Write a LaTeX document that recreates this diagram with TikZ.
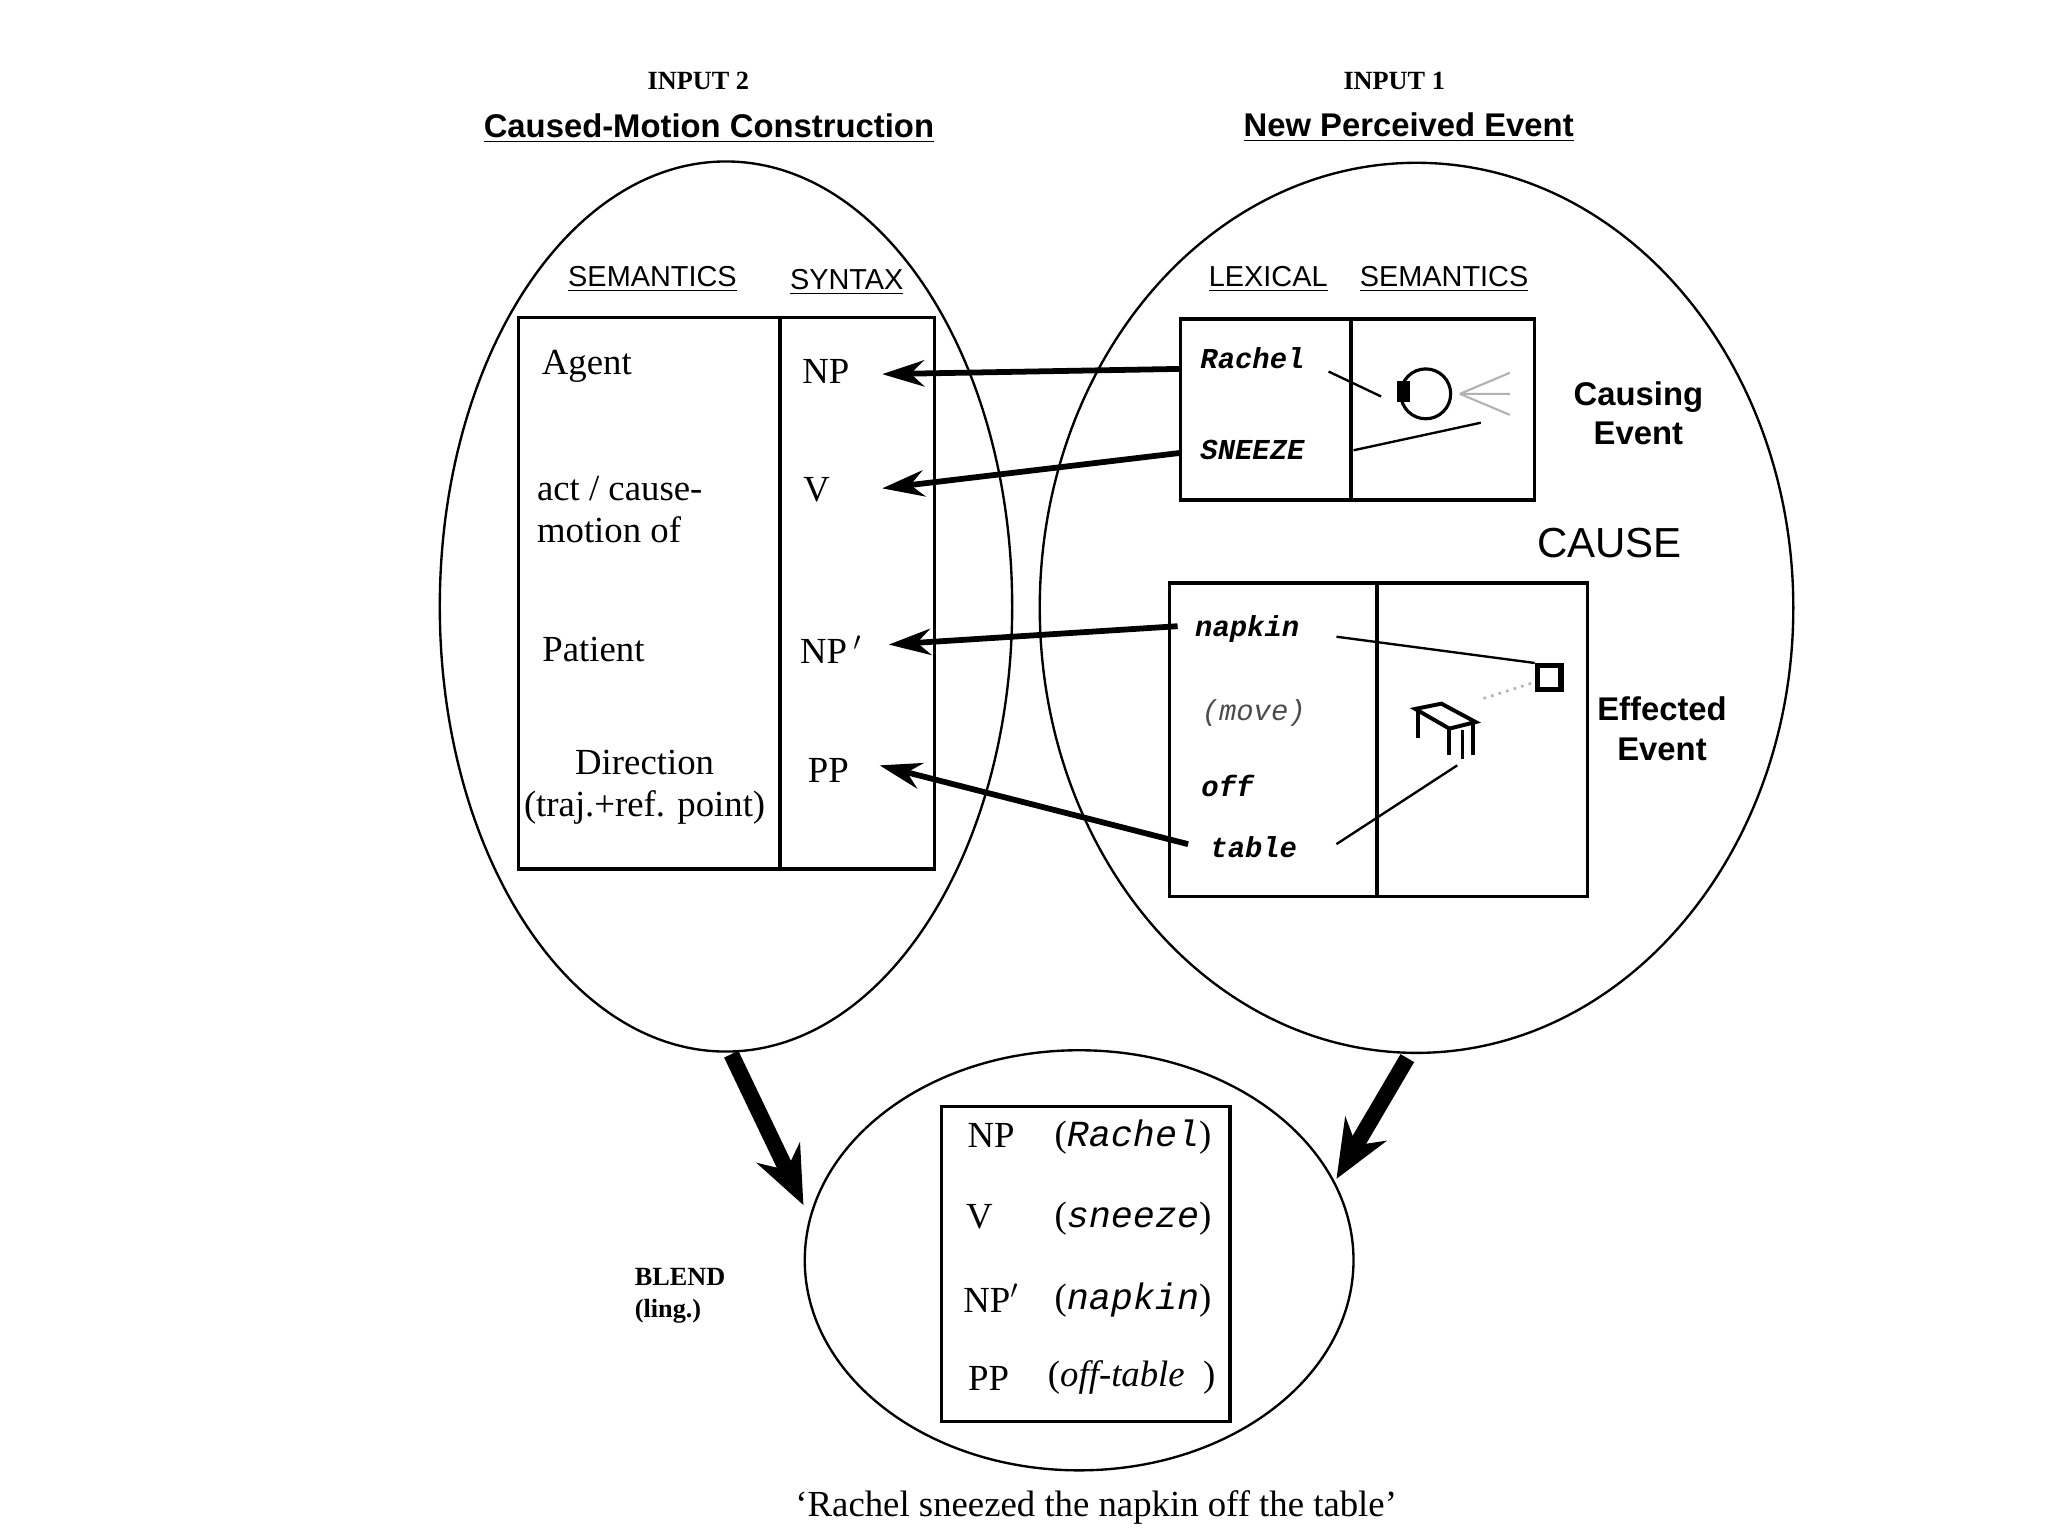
\documentclass[tikz,border=0pt]{standalone}
\usepackage{fontspec}
\setmainfont{Liberation Serif}
\newfontfamily\sansf{Liberation Sans}
\newfontfamily\monof{Liberation Mono}
\usetikzlibrary{arrows.meta}
\begin{document}
\begin{tikzpicture}[x=0.5pt,y=-0.5pt,
  ser/.style={font=\fontsize{14}{16}\selectfont},
  hdr/.style={font=\sansf\fontsize{11}{13}\selectfont},
  lab/.style={font=\sansf\bfseries\fontsize{12.5}{15}\selectfont,align=center},
  mono/.style={font=\monof\bfseries\itshape\fontsize{11}{13}\selectfont},
  arr/.style={-{Stealth[length=16pt,width=10pt]},line width=2.2pt},
  big/.style={-{Stealth[length=22pt,width=18pt]},line width=6pt},
  thin/.style={line width=0.9pt}]
\useasboundingbox (0,0) rectangle (1560,1170);
% titles
\node[font=\bfseries\fontsize{10}{12}\selectfont] (i2) at (532,62) {INPUT 2};
\node[font=\sansf\bfseries\fontsize{12.5}{14}\selectfont] (t2) at (540,98) {\underline{Caused-Motion Construction}};
\node[font=\bfseries\fontsize{10}{12}\selectfont] (i1) at (1062,62) {INPUT 1};
\node[font=\sansf\bfseries\fontsize{12.5}{14}\selectfont] (t1) at (1073,97) {\underline{New Perceived Event}};
% ellipses
\draw[thin] (553,462) ellipse [x radius=218, y radius=339];
\draw[thin] (1079,463) ellipse [x radius=287, y radius=339];
\draw[thin] (822,960) ellipse [x radius=209, y radius=160];
% left table
\draw[line width=1.3pt] (395,242) rectangle (712,662);
\draw[line width=1.3pt] (594,242) -- (594,662);
\node[hdr] (hs) at (497,213) {\underline{SEMANTICS}};
\node[hdr] (hy) at (645,215) {\underline{SYNTAX}};
\node[ser] (ag) at (447,279) {Agent};
\node[ser,align=left,anchor=west] (act) at (402,388) {act / cause-\\motion of};
\node[ser] (pa) at (452,495) {Patient};
\node[ser,align=center] (di) at (491,600) {Direction\\(traj.+ref. point)};
\node[ser] (np) at (629,283) {NP};
\node[ser] (v) at (622,373) {V};
\node[ser] (np2) at (633,495) {NP\,$'$};
\node[ser] (pp) at (631,587) {PP};
% right top box
\draw[line width=1.3pt] (899,243) rectangle (1169,381);
\draw[line width=1.3pt] (1029,243) -- (1029,381);
\node[hdr] (hl) at (966,213) {\underline{LEXICAL}};
\node[hdr] (hs2) at (1100,213) {\underline{SEMANTICS}};
\node[mono] (ra) at (954,273) {Rachel};
\node[mono] (sn) at (954,343) {SNEEZE};
% face icon
\node[draw,line width=1.2pt,circle,minimum size=19pt,inner sep=0] (face) at (1086,300) {};
\fill (1064,290) rectangle (1074,306);
\draw[gray!60,line width=0.8pt] (1112,300) -- (1150,284) (1112,300) -- (1150,300) (1112,300) -- (1150,316);
\draw[thin] (1012,283) -- (1052,302);
\draw[thin] (1031,343) -- (1128,322);
\node[lab] (ce) at (1248,315) {Causing\\Event};
\node[font=\sansf\fontsize{16}{18}\selectfont] (cause) at (1226,414) {CAUSE};
% right bottom box
\draw[line width=1.3pt] (891,444) rectangle (1209,683);
\draw[line width=1.3pt] (1049,444) -- (1049,683);
\node[mono] (na) at (950,479) {napkin};
\node[font=\monof\itshape\fontsize{11}{13}\selectfont,text=black!70] (mo) at (955,543) {(move)};
\node[mono] (of) at (935,599) {off};
\node[mono] (ta) at (955,645) {table};
\node[draw,line width=2pt,minimum size=9pt,inner sep=0] (sq) at (1180,516) {};
\draw[thin] (1018,485) -- (sq.north west);
\draw[gray!60,line width=1pt,dotted] (1130,532) -- (1168,520);
% table icon
\draw[line width=1.5pt] (1078,540) -- (1098,536) -- (1124,550) -- (1104,555) -- cycle;
\draw[line width=1.5pt] (1080,542) -- (1080,562) (1104,555) -- (1104,575) (1122,550) -- (1122,575) (1114,556) -- (1114,578);
\draw[thin] (1018,643) -- (1110,583);
\node[lab] (ee) at (1266,555) {Effected\\Event};
% arrows
\draw[arr] (899,281) -- (672,285);
\draw[arr] (899,345) -- (672,372);
\draw[arr] (897,477) -- (677,491);
\draw[arr] (905,643) -- (670,583);
% blend
\draw[line width=1.3pt] (717,843) rectangle (937,1083);
\node[ser] (b1) at (755,865) {NP};
\node[ser] (b2) at (746,927) {V};
\node[ser] (b3) at (755,989) {NP$'$};
\node[ser] (b4) at (753,1050) {PP};
\node[ser] (c1) at (863,866) {({\monof\itshape Rachel})};
\node[ser] (c2) at (863,928) {({\monof\itshape sneeze})};
\node[ser] (c3) at (863,990) {({\monof\itshape napkin})};
\node[ser] (c4) at (862,1049) {({\itshape off-table}\ \ )};
\node[font=\bfseries\fontsize{10}{12}\selectfont,align=left] (bl) at (518,987) {BLEND\\(ling.)};
\coordinate (l1) at (557,803); \coordinate (l2) at (612,918);
\coordinate (r1) at (1072,806); \coordinate (r2) at (1018,898);
\draw[big] (l1) -- (l2);
\draw[big] (r1) -- (r2);
\node[ser] (cap) at (835,1148) {`Rachel sneezed the napkin off the table'};
\end{tikzpicture}
\end{document}
